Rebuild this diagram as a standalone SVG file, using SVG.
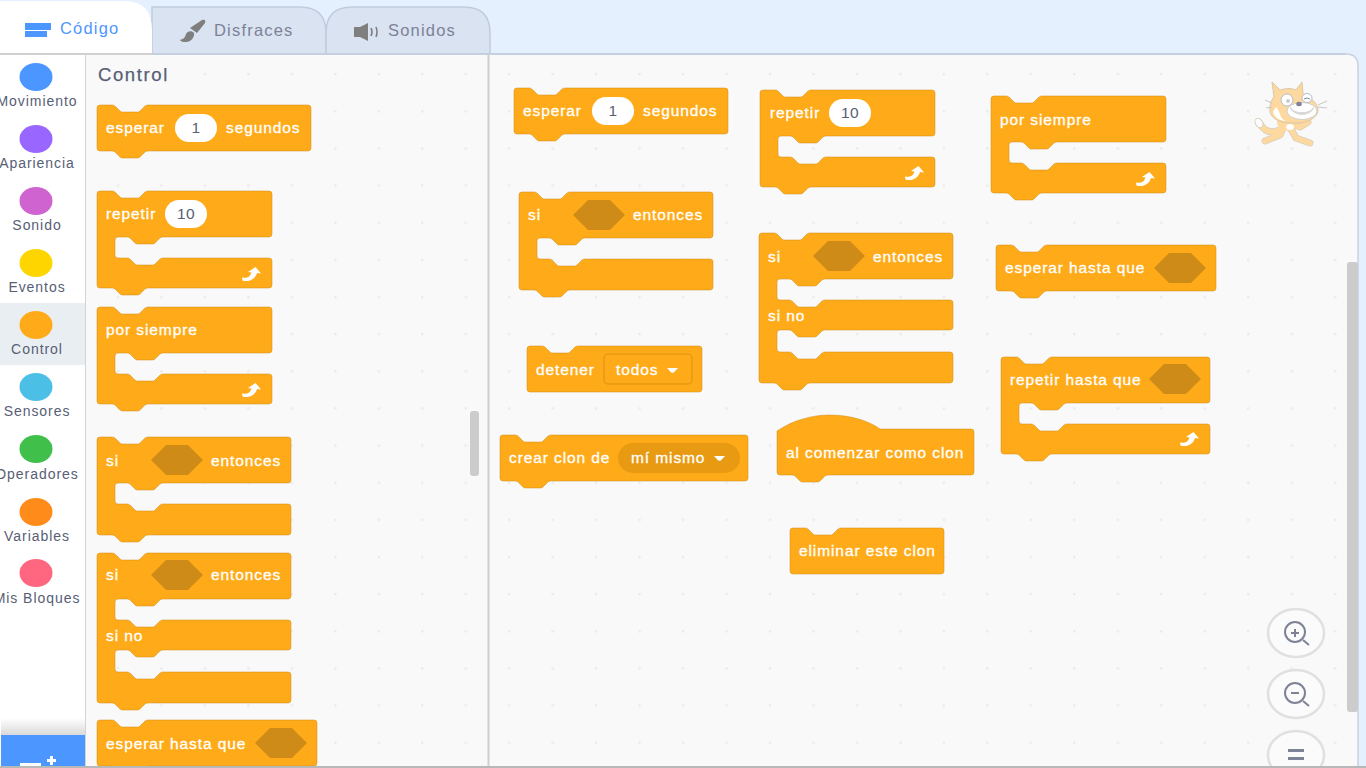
<svg xmlns="http://www.w3.org/2000/svg" width="1366" height="768" viewBox="0 0 1366 768">
<style>
text{font-family:"Liberation Sans",Arial,sans-serif}
.b{fill:#ffab19;stroke:#cf8b17;stroke-opacity:.5;stroke-width:1}
.t{fill:#fff;font-size:15.5px;letter-spacing:.9px;stroke:#fff;stroke-width:.3}
.n{fill:#575e75;font-size:15.5px;text-anchor:middle;letter-spacing:.4px}
.hex{fill:#cf8b17}
.pill{fill:#fff}
.cat{fill:#575e75;font-size:14px;text-anchor:middle;letter-spacing:.95px}
.tab{fill:#d9e3f2;stroke:#c0cbdc;stroke-width:1.5}
.lab{font-size:16.5px;letter-spacing:1.2px}
.zb{fill:#fbfbfb;stroke:#e0e0e0;stroke-width:2.5}
.zi{fill:none;stroke:#7d8296;stroke-width:2}
.leg{fill:none;stroke-linecap:round;stroke-linejoin:round}
</style>
<defs>
<pattern id="dots" x="508" y="73" width="43.47" height="37.14" patternUnits="userSpaceOnUse"><rect width="2.4" height="2.4" fill="#ebebeb"/></pattern>
<linearGradient id="fade" x1="0" y1="0" x2="0" y2="1"><stop offset="0" stop-color="#fff"/><stop offset="1" stop-color="#d9d9d9"/></linearGradient>
<path id="s214" class="b" d="M3 0h12c2 0 3 1 4 2l4 4c1 1 2 1 4 1h12c2 0 3 0 4-1l4-4c1-1 2-2 4-2h160q3 0 3 3v40q0 3-3 3h-160c-2 0-3 1-4 2l-4 4c-1 1-2 1-4 1h-12c-2 0-3 0-4-1l-4-4c-1-1-2-2-4-2h-12q-3 0-3-3v-40q0-3 3-3z"/>
<path id="s220" class="b" d="M3 0h12c2 0 3 1 4 2l4 4c1 1 2 1 4 1h12c2 0 3 0 4-1l4-4c1-1 2-2 4-2h166q3 0 3 3v40q0 3-3 3h-166c-2 0-3 1-4 2l-4 4c-1 1-2 1-4 1h-12c-2 0-3 0-4-1l-4-4c-1-1-2-2-4-2h-12q-3 0-3-3v-40q0-3 3-3z"/>
<path id="c175" class="b" d="M3 0h12c2 0 3 1 4 2l4 4c1 1 2 1 4 1h12c2 0 3 0 4-1l4-4c1-1 2-2 4-2h121q3 0 3 3v40q0 3-3 3h-106c-2 0-3 1-4 2l-4 4c-1 1-2 1-4 1h-12c-2 0-3 0-4-1l-4-4c-1-1-2-2-4-2h-9q-3 0-3 3v15q0 3 3 3h9c2 0 3 1 4 2l4 4c1 1 2 1 4 1h12c2 0 3 0 4-1l4-4c1-1 2-2 4-2h106q3 0 3 3v24q0 3-3 3h-121c-2 0-3 1-4 2l-4 4c-1 1-2 1-4 1h-12c-2 0-3 0-4-1l-4-4c-1-1-2-2-4-2h-12q-3 0-3-3v-91q0-3 3-3z"/>
<path id="c194" class="b" d="M3 0h12c2 0 3 1 4 2l4 4c1 1 2 1 4 1h12c2 0 3 0 4-1l4-4c1-1 2-2 4-2h140q3 0 3 3v40q0 3-3 3h-125c-2 0-3 1-4 2l-4 4c-1 1-2 1-4 1h-12c-2 0-3 0-4-1l-4-4c-1-1-2-2-4-2h-9q-3 0-3 3v15q0 3 3 3h9c2 0 3 1 4 2l4 4c1 1 2 1 4 1h12c2 0 3 0 4-1l4-4c1-1 2-2 4-2h125q3 0 3 3v25q0 3-3 3h-140c-2 0-3 1-4 2l-4 4c-1 1-2 1-4 1h-12c-2 0-3 0-4-1l-4-4c-1-1-2-2-4-2h-12q-3 0-3-3v-92q0-3 3-3z"/>
<path id="e194" class="b" d="M3 0h12c2 0 3 1 4 2l4 4c1 1 2 1 4 1h12c2 0 3 0 4-1l4-4c1-1 2-2 4-2h140q3 0 3 3v40q0 3-3 3h-125c-2 0-3 1-4 2l-4 4c-1 1-2 1-4 1h-12c-2 0-3 0-4-1l-4-4c-1-1-2-2-4-2h-9q-3 0-3 3v15q0 3 3 3h9c2 0 3 1 4 2l4 4c1 1 2 1 4 1h12c2 0 3 0 4-1l4-4c1-1 2-2 4-2h125q3 0 3 3v24q0 3-3 3h-125c-2 0-3 1-4 2l-4 4c-1 1-2 1-4 1h-12c-2 0-3 0-4-1l-4-4c-1-1-2-2-4-2h-9q-3 0-3 3v16q0 3 3 3h9c2 0 3 1 4 2l4 4c1 1 2 1 4 1h12c2 0 3 0 4-1l4-4c1-1 2-2 4-2h125q3 0 3 3v25q0 3-3 3h-140c-2 0-3 1-4 2l-4 4c-1 1-2 1-4 1h-12c-2 0-3 0-4-1l-4-4c-1-1-2-2-4-2h-12q-3 0-3-3v-144q0-3 3-3z"/>
<path id="arrow" fill="#fff" d="M0 10.500c4 1 8 0 9.500-5l-3.500-.5 7.500-5 5.500 6.500-4-.5c-1.500 6-8 9.500-14.500 7.500z"/>
<polygon id="hx" class="hex" points="0,15 15,0 37,0 52,15 37,30 15,30"/>
<path id="caret" fill="#fff" d="M0 0h11l-4 4.200q-1.500 1-3 0z"/>
</defs>

<rect id="page-bg" width="1366" height="768" fill="#e5f0ff"/>

<g id="tabs">
<path id="tab-disfraces" class="tab" d="M152 54V7h148q26 0 26 26v21z"/>
<path id="tab-sonidos" class="tab" d="M326 54V33q0-26 26-26h112q26 0 26 26v21z"/>
<path id="tab-codigo" fill="#fff" d="M0 54V1h125q27 0 27 30v23z"/>
<g id="icon-codigo" fill="#4c97ff"><path d="M25 23h26v7h-26z"/><path d="M25 31h22v6h-22z"/></g>
<text x="60" y="34" class="lab" fill="#4c97ff">Código</text>
<path id="icon-brush" fill="#7f7f7f" d="M180 40c3-1 5-2 6-6 1-3 6-4 8-1 1 4-3 9-8 9-2 0-5 0-6-2zM190 28l12-8c3-1 4 1 3 3l-8 10z"/>
<text x="214" y="36" class="lab" fill="#7d8296">Disfraces</text>
<path id="icon-speaker" fill="#7f7f7f" d="M354 27h6l8-4v18l-8-4h-6z"/>
<path fill="none" stroke="#7f7f7f" stroke-width="1.600" d="M371 28q2 4 0 8M376 27q2 5 0 10"/>
<text x="388" y="36" class="lab" fill="#7d8296">Sonidos</text>
</g>

<g id="panels">
<rect x="0" y="54" width="86" height="713" fill="#fff"/>
<path id="workspace" fill="#f9f9f9" d="M86 54H1346q12 0 12 12V767H86z"/>
<path fill="url(#dots)" d="M86 54H1346q12 0 12 12V767H86z"/>
<path fill="none" stroke="#c9d2e0" stroke-width="1.500" d="M1346 54q12 0 12 12V767"/>
<path d="M0 54H152" stroke="#d0d0d0" stroke-width="2"/>
<path d="M152 54H1346" stroke="#c4cfe0" stroke-width="2"/>
<path d="M85.500 54V767" stroke="#d4d4d4" stroke-width="1"/>
<path d="M488.500 54V767" stroke="#cfcfcf" stroke-width="2"/>
<rect x="470" y="411" width="9" height="65" rx="3" fill="#cccccc"/>
<rect x="1347" y="262" width="11" height="450" rx="3" fill="#cccccc"/>
</g>

<g id="categories">
<rect x="0" y="303" width="85" height="62" fill="#e9eef2"/>
<g id="cat-movimiento"><ellipse cx="36" cy="77" rx="16.500" ry="14" fill="#4c97ff"/><text x="37" y="106" class="cat">Movimiento</text></g>
<g id="cat-apariencia"><ellipse cx="36" cy="139" rx="16.500" ry="14" fill="#9966ff"/><text x="37" y="168" class="cat">Apariencia</text></g>
<g id="cat-sonido"><ellipse cx="36" cy="201" rx="16.500" ry="14" fill="#cf63cf"/><text x="37" y="230" class="cat">Sonido</text></g>
<g id="cat-eventos"><ellipse cx="36" cy="263" rx="16.500" ry="14" fill="#ffd500"/><text x="37" y="292" class="cat">Eventos</text></g>
<g id="cat-control"><ellipse cx="36" cy="325" rx="16.500" ry="14" fill="#ffab19"/><text x="37" y="354" class="cat">Control</text></g>
<g id="cat-sensores"><ellipse cx="36" cy="387" rx="16.500" ry="14" fill="#4cbfe6"/><text x="37" y="416" class="cat">Sensores</text></g>
<g id="cat-operadores"><ellipse cx="36" cy="449" rx="16.500" ry="14" fill="#40bf4a"/><text x="37" y="479" class="cat">Operadores</text></g>
<g id="cat-variables"><ellipse cx="36" cy="512" rx="16.500" ry="14" fill="#ff8c1a"/><text x="37" y="541" class="cat">Variables</text></g>
<g id="cat-misbloques"><ellipse cx="36" cy="573" rx="16.500" ry="14" fill="#ff6680"/><text x="37" y="603" class="cat">Mis Bloques</text></g>
<rect x="1" y="718" width="84" height="17" fill="url(#fade)"/>
<g id="add-extension"><rect x="1" y="735" width="84" height="32" fill="#4c97ff"/><path fill="#fff" d="M20 763h21v3h-21zM47 759h3v-3h3v3h3v3h-3v3h-3v-3h-3z"/></g>
</g>

<text x="98" y="81" fill="#575e75" font-size="18.500" letter-spacing="1.600" stroke="#575e75" stroke-width=".25">Control</text>

<g id="p-esperar" transform="translate(97 105)"><use href="#s214"/><text x="9" y="28" class="t">esperar</text><rect class="pill" x="78" y="9" width="42" height="28" rx="14"/><text x="99" y="28" class="n">1</text><text x="129" y="28" class="t">segundos</text></g>
<g id="p-repetir" transform="translate(97 191)"><use href="#c175"/><text x="9" y="28" class="t">repetir</text><rect class="pill" x="68" y="9" width="42" height="28" rx="14"/><text x="89" y="28" class="n">10</text><use href="#arrow" x="145" y="76"/></g>
<g id="p-siempre" transform="translate(97 307)"><use href="#c175"/><text x="9" y="28" class="t">por siempre</text><use href="#arrow" x="145" y="76"/></g>
<g id="p-si" transform="translate(97 437)"><use href="#c194"/><text x="9" y="29" class="t">si</text><use href="#hx" x="54" y="8"/><text x="114" y="29" class="t">entonces</text></g>
<g id="p-sisino" transform="translate(97 553)"><use href="#e194"/><text x="9" y="27" class="t">si</text><use href="#hx" x="54" y="7"/><text x="114" y="27" class="t">entonces</text><text x="9" y="88" class="t">si no</text></g>
<g id="p-hasta" transform="translate(97 720)"><use href="#s220"/><text x="9" y="29" class="t">esperar hasta que</text><use href="#hx" x="158" y="8"/></g>

<g id="w-esperar" transform="translate(514 88)"><use href="#s214"/><text x="9" y="28" class="t">esperar</text><rect class="pill" x="78" y="9" width="42" height="28" rx="14"/><text x="99" y="28" class="n">1</text><text x="129" y="28" class="t">segundos</text></g>
<g id="w-repetir" transform="translate(760 90)"><use href="#c175"/><text x="10" y="28" class="t">repetir</text><rect class="pill" x="69" y="9" width="42" height="28" rx="14"/><text x="90" y="28" class="n">10</text><use href="#arrow" x="145" y="76"/></g>
<g id="w-siempre" transform="translate(991 96)"><use href="#c175"/><text x="9" y="29" class="t">por siempre</text><use href="#arrow" x="145" y="76"/></g>
<g id="w-si" transform="translate(519 192)"><use href="#c194"/><text x="9" y="28" class="t">si</text><use href="#hx" x="54" y="8"/><text x="114" y="28" class="t">entonces</text></g>
<g id="w-sisino" transform="translate(759 233)"><use href="#e194"/><text x="9" y="29" class="t">si</text><use href="#hx" x="54" y="8"/><text x="114" y="29" class="t">entonces</text><text x="9" y="88" class="t">si no</text></g>
<g id="w-hasta" transform="translate(996 245)"><use href="#s220"/><text x="9" y="28" class="t">esperar hasta que</text><use href="#hx" x="158" y="8"/></g>
<g id="w-repetirhasta" transform="translate(1001 357)"><path class="b" d="M3 0h12c2 0 3 1 4 2l4 4c1 1 2 1 4 1h12c2 0 3 0 4-1l4-4c1-1 2-2 4-2h155q3 0 3 3v40q0 3-3 3h-140c-2 0-3 1-4 2l-4 4c-1 1-2 1-4 1h-12c-2 0-3 0-4-1l-4-4c-1-1-2-2-4-2h-9q-3 0-3 3v15q0 3 3 3h9c2 0 3 1 4 2l4 4c1 1 2 1 4 1h12c2 0 3 0 4-1l4-4c1-1 2-2 4-2h140q3 0 3 3v24q0 3-3 3h-155c-2 0-3 1-4 2l-4 4c-1 1-2 1-4 1h-12c-2 0-3 0-4-1l-4-4c-1-1-2-2-4-2h-12q-3 0-3-3v-91q0-3 3-3z"/><text x="9" y="28" class="t">repetir hasta que</text><use href="#hx" x="148" y="7"/><use href="#arrow" x="179" y="75"/></g>
<g id="w-detener" transform="translate(527 346)"><path class="b" d="M3 0h12c2 0 3 1 4 2l4 4c1 1 2 1 4 1h12c2 0 3 0 4-1l4-4c1-1 2-2 4-2h121q3 0 3 3v40q0 3-3 3h-169q-3 0-3-3v-40q0-3 3-3z"/><text x="9" y="29" class="t">detener</text><rect x="77" y="8" width="88" height="30" rx="4" fill="#ffab19" stroke="#e89a12" stroke-width="1.500"/><text x="89" y="29" class="t">todos</text><use href="#caret" x="140" y="22"/></g>
<g id="w-clon" transform="translate(500 435)"><path class="b" d="M3 0h12c2 0 3 1 4 2l4 4c1 1 2 1 4 1h12c2 0 3 0 4-1l4-4c1-1 2-2 4-2h194q3 0 3 3v40q0 3-3 3h-194c-2 0-3 1-4 2l-4 4c-1 1-2 1-4 1h-12c-2 0-3 0-4-1l-4-4c-1-1-2-2-4-2h-12q-3 0-3-3v-40q0-3 3-3z"/><text x="9" y="28" class="t">crear clon de</text><rect x="118" y="8" width="122" height="30" rx="15" fill="#e89a12"/><text x="131" y="28" class="t">mí mismo</text><use href="#caret" x="214" y="21"/></g>
<g id="w-hat" transform="translate(777 415)"><path class="b" d="M0 16C16 5 36 0 52 0 74 0 92 6 103 14H194q3 0 3 3V57q0 3-3 3H51c-2 0-3 1-4 2l-4 4c-1 1-2 1-4 1h-12c-2 0-3 0-4-1l-4-4c-1-1-2-2-4-2H3q-3 0-3-3z"/><text x="9" y="43" class="t">al comenzar como clon</text></g>
<g id="w-eliminar" transform="translate(790 528)"><path class="b" d="M3 0h12c2 0 3 1 4 2l4 4c1 1 2 1 4 1h12c2 0 3 0 4-1l4-4c1-1 2-2 4-2h100q3 0 3 3v40q0 3-3 3h-148q-3 0-3-3v-40q0-3 3-3z"/><text x="9" y="28" class="t">eliminar este clon</text></g>

<g id="sprite">
<path class="leg" stroke="#d8cfc0" stroke-width="7" d="M1279 130Q1268 136 1260 124M1285 124L1280 135 1265 141M1288 124L1296 138 1310 143M1290 124L1300 127 1308 122"/>
<path class="leg" stroke="#fdd9a0" stroke-width="5.500" d="M1279 130Q1268 136 1260 124M1285 124L1280 135 1265 141M1288 124L1296 138 1310 143M1290 124L1300 127 1308 122"/>
<ellipse cx="1259" cy="123" rx="3.500" ry="5" fill="#fff" stroke="#d8cfc0" transform="rotate(-30 1259 123)"/>
<ellipse cx="1286" cy="122" rx="9" ry="9" fill="#fdd9a0"/>
<ellipse cx="1290" cy="127" rx="4" ry="3" fill="#fff"/>
<path fill="#fdd9a0" stroke="#d9c8a8" d="M1272 82l8 8q10-3 16 0l6-8 1 12c8 3 15 10 15 16 0 8-12 14-25 13-16 0-24-6-23-15 0-5 2-9 4-11z"/>
<path fill="#fff" d="M1276 107c5 5 3 12 10 14-6 0-12-4-13-9z"/>
<ellipse cx="1302" cy="111" rx="15" ry="8.500" fill="#fff" stroke="#d0d0d0"/>
<path fill="#d8d8d8" d="M1290 107h24c0 4-6 8-12 8s-12-4-12-8z"/>
<path fill="#fff" d="M1291 107h22c-1 3-5 5-11 5s-10-2-11-5z"/>
<circle cx="1287" cy="100" r="6" fill="#fff" stroke="#b8bcc8"/>
<circle cx="1288" cy="101" r="2" fill="#c8cbd4"/>
<ellipse cx="1307" cy="98" rx="5" ry="4.500" fill="#fff" stroke="#b8bcc8"/>
<path stroke="#8a8d9a" fill="none" d="M1304 99q3-2 6 0"/>
<ellipse cx="1299" cy="104" rx="2.800" ry="2.200" fill="#7d8296"/>
<path stroke="#c8c8c8" fill="none" d="M1265 100l7 3M1266 108l6-1M1327 101l-9 4M1327 108l-9-1"/>
</g>

<g id="zoom-controls">
<g id="zoom-in"><ellipse class="zb" cx="1296" cy="633" rx="28" ry="24"/><circle class="zi" cx="1295" cy="632" r="10"/><path class="zi" d="M1303 640l6 5M1291 633h8M1295 629v8"/></g>
<g id="zoom-out"><ellipse class="zb" cx="1296" cy="694" rx="28" ry="24"/><circle class="zi" cx="1295" cy="693" r="10"/><path class="zi" d="M1303 701l6 5M1291 693h8"/></g>
<g id="zoom-reset"><ellipse class="zb" cx="1296" cy="755" rx="28" ry="24"/><path fill="#7d8296" d="M1288 749h16v3h-16zM1288 757h16v3h-16z"/></g>
</g>
<rect id="bottom-edge" x="0" y="766" width="1366" height="2" fill="#b8b8b8"/>
</svg>
